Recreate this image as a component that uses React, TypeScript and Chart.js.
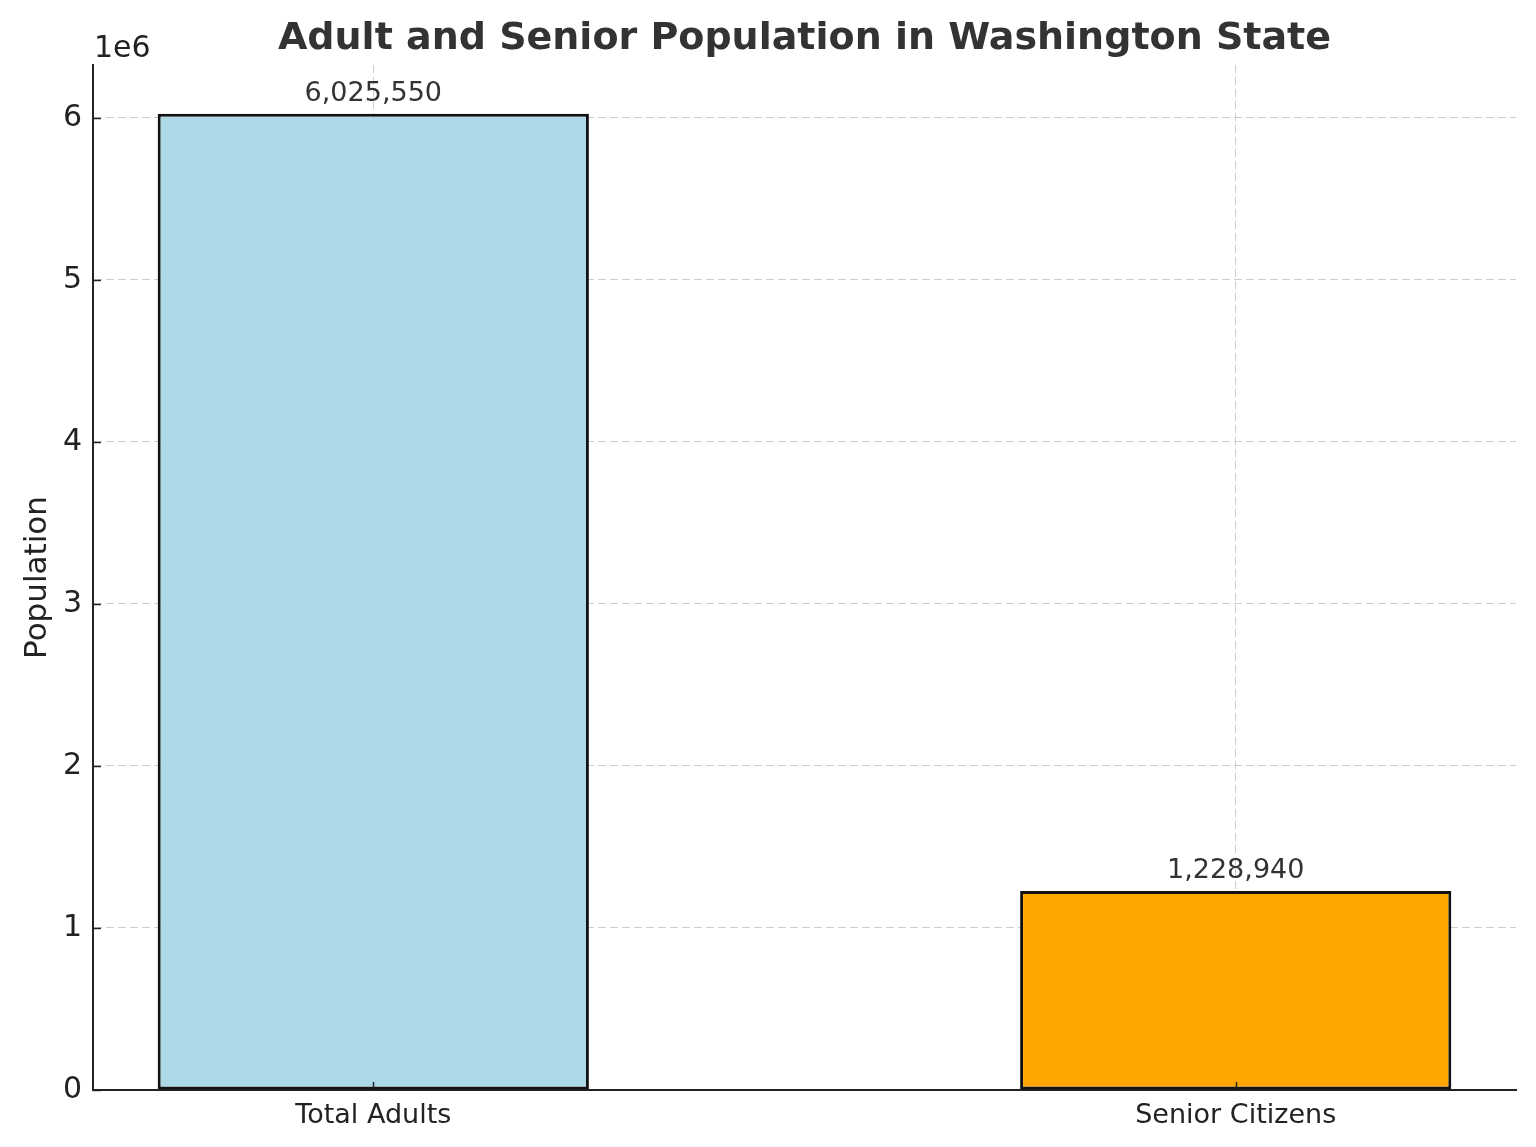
import { useEffect, useRef } from "react";
import { Chart, registerables } from "chart.js";

Chart.register(...registerables);

const categories = ["Total Adults", "Senior Citizens"];
const populations = [6025550, 1228940];
const barColors = ["#ADD8E6", "#FFA500"];
const yTickValues = [0, 1e6, 2e6, 3e6, 4e6, 5e6, 6e6];
const xPositions = [0, 1];
const TITLE = "Adult and Senior Population in Washington State";
const Y_LABEL = "Population";
const Y_OFFSET_TEXT = "1e6";

const FONT = "'DejaVu Sans', 'Liberation Sans', sans-serif";

export default function App() {
  const ref = useRef<HTMLCanvasElement | null>(null);

  useEffect(() => {
    document.body.style.margin = "0";
    const canvas = ref.current;
    if (!canvas) return;

    const overlay = {
      id: "overlay",
      afterDraw(chart: any) {
        const { ctx, chartArea } = chart;
        const { left, right, top, bottom } = chartArea;
        ctx.save();

        // inward tick marks
        ctx.strokeStyle = "#222";
        ctx.lineWidth = 1.5;
        const ys = chart.scales.y;
        for (const v of yTickValues) {
          const py = Math.round(ys.getPixelForValue(v)) + 0.5;
          ctx.beginPath();
          ctx.moveTo(left, py);
          ctx.lineTo(left + 8, py);
          ctx.stroke();
        }
        const xs = chart.scales.x;
        for (const v of xPositions) {
          const px = Math.round(xs.getPixelForValue(v)) + 0.5;
          ctx.beginPath();
          ctx.moveTo(px, bottom);
          ctx.lineTo(px, bottom - 8);
          ctx.stroke();
        }

        // value labels
        const meta = chart.getDatasetMeta(0);
        ctx.fillStyle = "#333";
        ctx.font = `27px ${FONT}`;
        ctx.textAlign = "center";
        ctx.textBaseline = "alphabetic";
        meta.data.forEach((bar: any, i: number) => {
          ctx.fillText(populations[i].toLocaleString("en-US"), bar.x, bar.y - 13);
        });

        // title
        ctx.fillStyle = "#333";
        ctx.font = `bold 38px ${FONT}`;
        ctx.textAlign = "center";
        ctx.fillText(TITLE, (left + right) / 2, 49);

        // offset text
        ctx.fillStyle = "#222";
        ctx.font = `30px ${FONT}`;
        ctx.textAlign = "left";
        ctx.fillText(Y_OFFSET_TEXT, left + 1, 57);

        // y label
        ctx.translate(46, (top + bottom) / 2);
        ctx.rotate(-Math.PI / 2);
        ctx.textAlign = "center";
        ctx.font = `31px ${FONT}`;
        ctx.fillText(Y_LABEL, 0, 0);

        ctx.restore();
      },
    };

    const chart = new Chart(canvas, {
      type: "bar",
      data: {
        datasets: [
          {
            data: xPositions.map((x, i) => ({ x, y: populations[i] })),
            backgroundColor: barColors,
            borderColor: "#111",
            borderWidth: 3,
            borderSkipped: false,
            categoryPercentage: 1,
            barPercentage: 0.5,
          },
        ],
      },
      options: {
        animation: false,
        responsive: true,
        maintainAspectRatio: false,
        layout: { padding: { top: 65, right: 20, left: 0, bottom: 0 } },
        plugins: {
          legend: { display: false },
          tooltip: { enabled: false },
          title: { display: false },
        },
        scales: {
          x: {
            type: "linear",
            min: -0.325,
            max: 1.325,
            offset: false,
            z: 1,
            afterBuildTicks: (s: any) => {
              s.ticks = xPositions.map((v) => ({ value: v }));
            },
            afterFit: (s: any) => {
              s.height = 57;
            },
            ticks: {
              padding: 10,
              color: "#222",
              font: { family: FONT, size: 27 },
              callback: (v: any) => categories[xPositions.indexOf(Number(v))] ?? "",
              maxRotation: 0,
              autoSkip: false,
            },
            grid: {
              color: "#cccccc",
              lineWidth: 1,
              drawTicks: false,
              offset: false,
            },
            border: { display: true, color: "#222", width: 2, dash: [8, 4] },
          },
          y: {
            type: "linear",
            min: 0,
            max: populations[0] * 1.05,
            z: 1,
            afterBuildTicks: (s: any) => {
              s.ticks = yTickValues.map((v) => ({ value: v }));
            },
            afterFit: (s: any) => {
              s.width = 93;
            },
            ticks: {
              padding: 11,
              color: "#222",
              font: { family: FONT, size: 30 },
              callback: (v: any) => String(Number(v) / 1e6),
            },
            grid: {
              color: "#cccccc",
              lineWidth: 1,
              drawTicks: false,
            },
            border: { display: true, color: "#222", width: 2, dash: [8, 4] },
          },
        },
      } as any,
      plugins: [overlay],
    });

    return () => chart.destroy();
  }, []);

  return (
    <div style={{ width: 1536, height: 1147, position: "relative" }}>
      <canvas ref={ref} />
    </div>
  );
}
